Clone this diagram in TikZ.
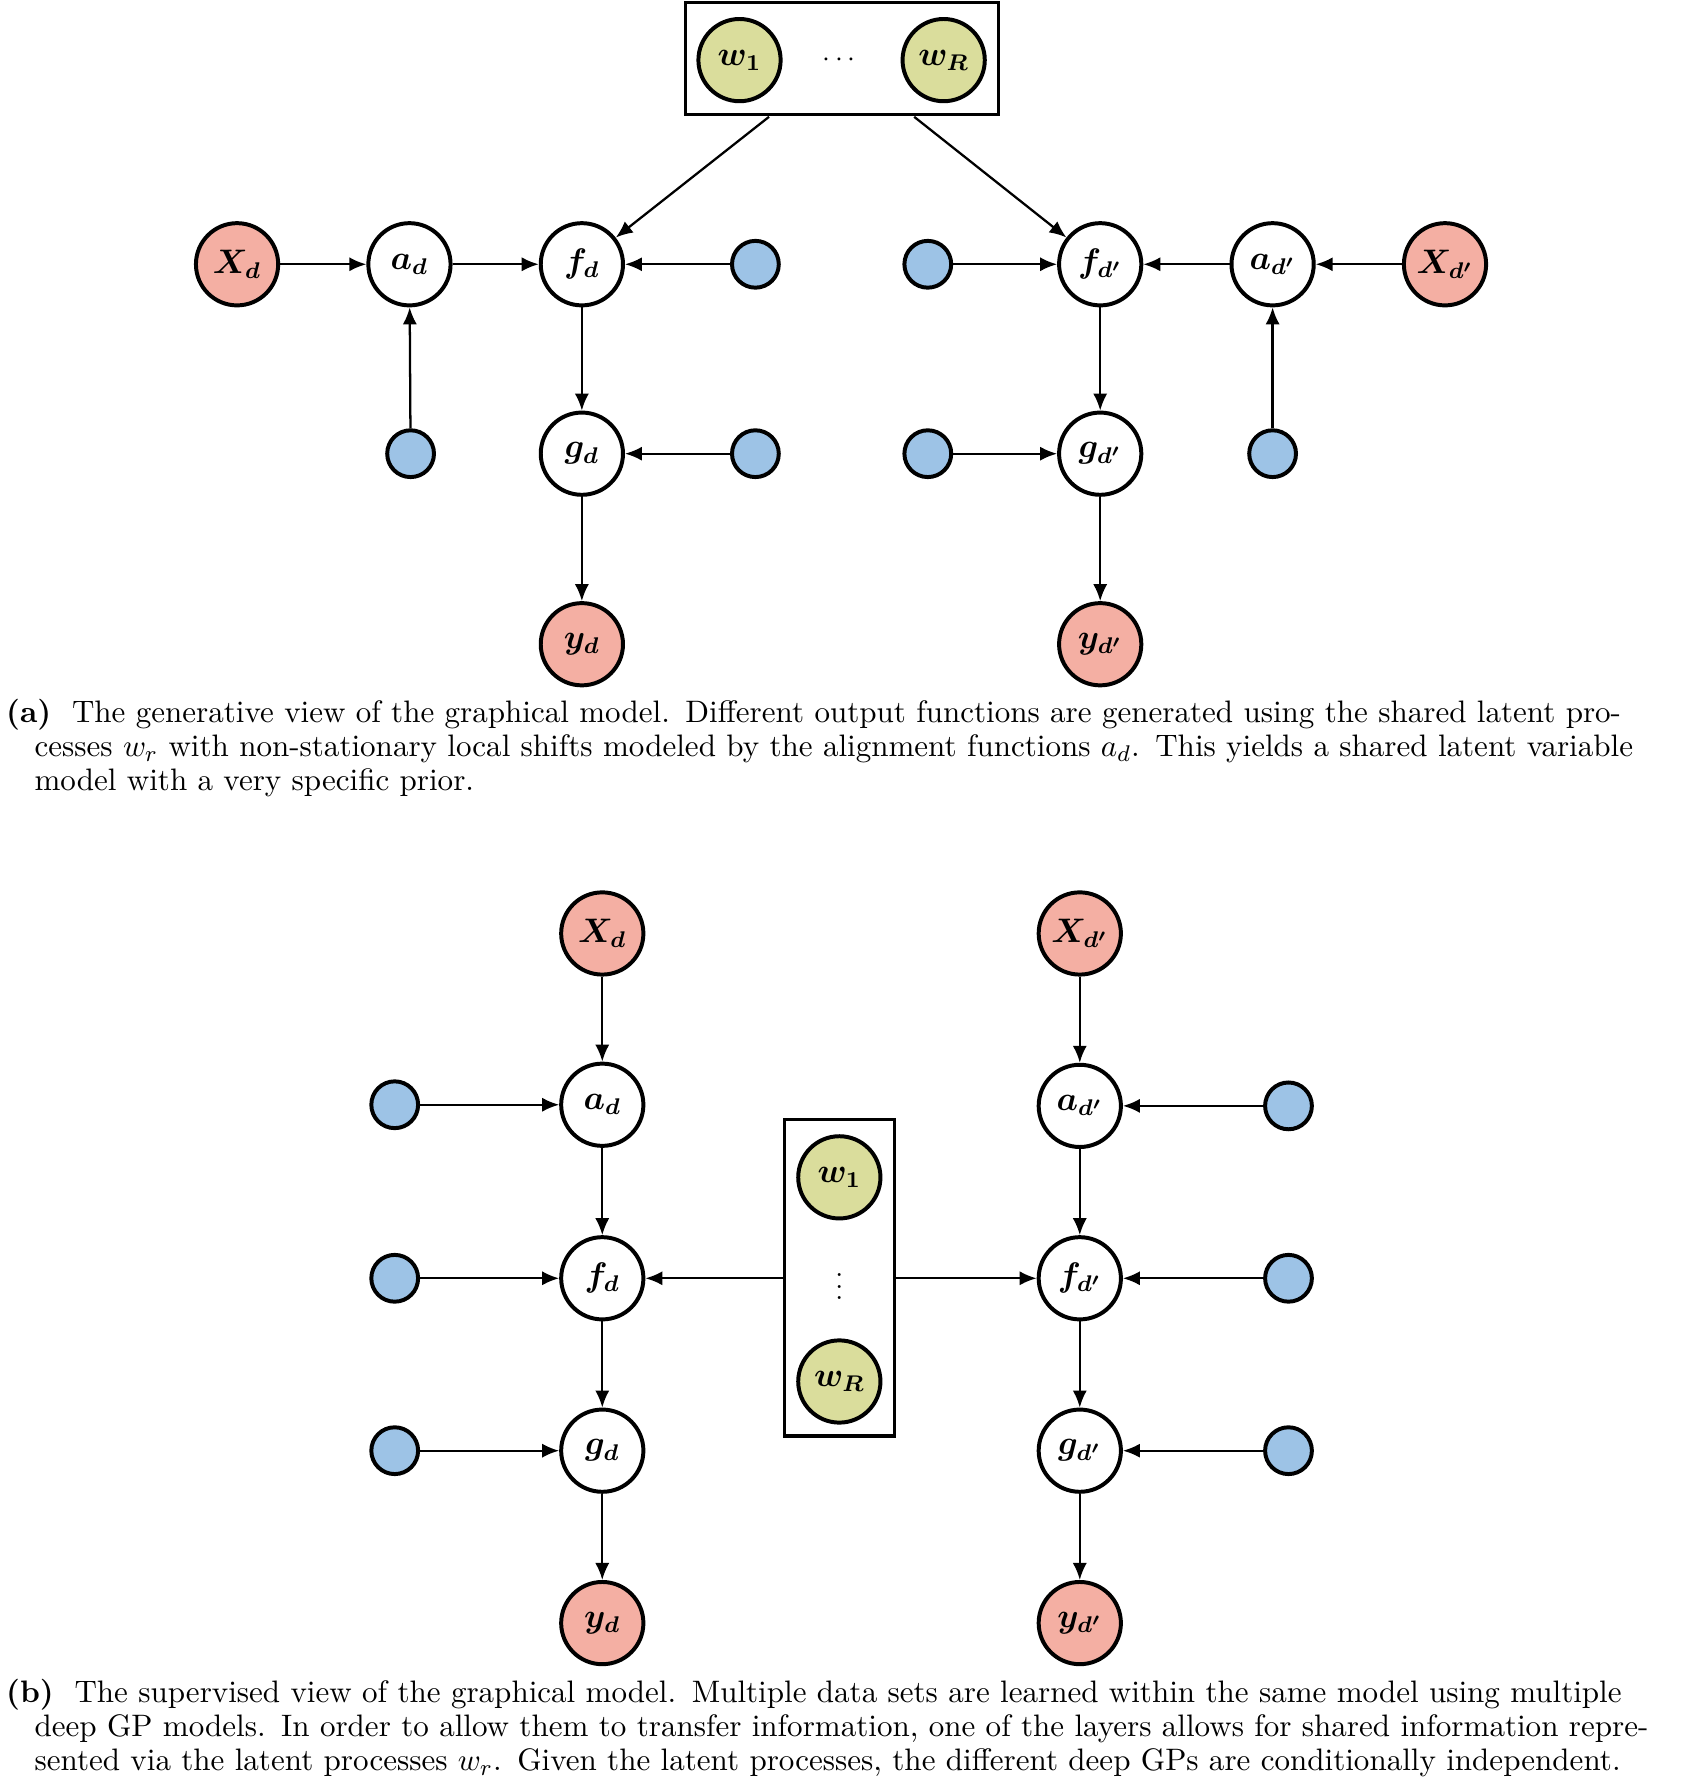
\documentclass[tikz,border=0pt]{standalone}
\usetikzlibrary{arrows.meta}
\definecolor{obs}{HTML}{F4AFA3}
\definecolor{hyp}{HTML}{9DC3E6}
\definecolor{wcol}{HTML}{DADD9C}
\begin{document}
\begin{tikzpicture}[x=0.4pt,y=-0.4pt,
 var/.style={circle,draw,line width=1.4pt,minimum size=29pt,inner sep=0pt,font=\boldmath\large},
 lat/.style={var,fill=white},
 ob/.style={var,fill=obs},
 ww/.style={var,fill=wcol},
 hp/.style={circle,draw,line width=1.4pt,fill=hyp,minimum size=16.5pt,inner sep=0pt},
 ar/.style={-{Latex[length=6pt,width=5pt]},line width=0.8pt},
 captext/.style={anchor=north west,text width=592pt,inner sep=0pt,font=\fontsize{10.95}{12}\selectfont}]
\useasboundingbox (0,0) rectangle (1490,1572);
% (a)
\node[ww] (w1) at (652,53) {$w_1$};
\node[ww] (wR) at (832,53) {$w_R$};
\node[inner sep=0pt] (dots) at (740,53) {$\cdots$};
\draw[line width=1.1pt] (604,2) rectangle (880,101);
\coordinate (bl) at (678,103); \coordinate (br) at (806,103);
\node[ob] (Xd) at (209,233) {$X_d$};
\node[lat] (ad) at (361,233) {$a_d$};
\node[lat] (fd) at (513,233) {$f_d$};
\node[hp] (h1) at (666,233) {};
\node[hp] (h2) at (818,233) {};
\node[lat] (fdp) at (970,233) {$f_{d'}$};
\node[lat] (adp) at (1122,233) {$a_{d'}$};
\node[ob] (Xdp) at (1274,233) {$X_{d'}$};
\node[hp] (h3) at (362,400) {};
\node[lat] (gd) at (513,400) {$g_d$};
\node[hp] (h4) at (666,400) {};
\node[hp] (h5) at (818,400) {};
\node[lat] (gdp) at (970,400) {$g_{d'}$};
\node[hp] (h6) at (1122,400) {};
\node[ob] (yd) at (513,568) {$y_d$};
\node[ob] (ydp) at (970,568) {$y_{d'}$};
\draw[ar] (bl) -- (fd); \draw[ar] (br) -- (fdp);
\draw[ar] (Xd) -- (ad); \draw[ar] (ad) -- (fd); \draw[ar] (h1) -- (fd);
\draw[ar] (h2) -- (fdp); \draw[ar] (adp) -- (fdp); \draw[ar] (Xdp) -- (adp);
\draw[ar] (h3) -- (ad); \draw[ar] (h6) -- (adp);
\draw[ar] (fd) -- (gd); \draw[ar] (fdp) -- (gdp);
\draw[ar] (h4) -- (gd); \draw[ar] (h5) -- (gdp);
\draw[ar] (gd) -- (yd); \draw[ar] (gdp) -- (ydp);
\node[captext] (capa) at (5,616) {\parshape 2 0pt 592pt 10pt 582pt\noindent\textbf{(a)}\ \ The generative view of the graphical model. Different output functions are generated using the shared latent processes $w_r$ with non-stationary local shifts modeled by the alignment functions $a_d$. This yields a shared latent variable model with a very specific prior.\par};
% (b)
\node[ob] (bXd) at (531,823) {$X_d$};
\node[lat] (bad) at (531,974) {$a_d$};
\node[lat] (bfd) at (531,1127) {$f_d$};
\node[lat] (bgd) at (531,1279) {$g_d$};
\node[ob] (byd) at (531,1431) {$y_d$};
\node[ob] (bXdp) at (952,823) {$X_{d'}$};
\node[lat] (badp) at (952,975) {$a_{d'}$};
\node[lat] (bfdp) at (952,1127) {$f_{d'}$};
\node[lat] (bgdp) at (952,1279) {$g_{d'}$};
\node[ob] (bydp) at (952,1431) {$y_{d'}$};
\node[hp] (k1) at (348,974) {};
\node[hp] (k2) at (348,1127) {};
\node[hp] (k3) at (348,1279) {};
\node[hp] (k4) at (1136,975) {};
\node[hp] (k5) at (1136,1127) {};
\node[hp] (k6) at (1136,1279) {};
\node[ww] (bw1) at (740,1038) {$w_1$};
\node[ww] (bwR) at (740,1218) {$w_R$};
\node[inner sep=0pt] (vd) at (740,1127) {$\vdots$};
\draw[line width=1.1pt] (692,987) rectangle (789,1266);
\coordinate (bbl) at (692,1127); \coordinate (bbr) at (789,1127);
\draw[ar] (bXd) -- (bad); \draw[ar] (bad) -- (bfd); \draw[ar] (bfd) -- (bgd); \draw[ar] (bgd) -- (byd);
\draw[ar] (bXdp) -- (badp); \draw[ar] (badp) -- (bfdp); \draw[ar] (bfdp) -- (bgdp); \draw[ar] (bgdp) -- (bydp);
\draw[ar] (k1) -- (bad); \draw[ar] (k2) -- (bfd); \draw[ar] (k3) -- (bgd);
\draw[ar] (k4) -- (badp); \draw[ar] (k5) -- (bfdp); \draw[ar] (k6) -- (bgdp);
\draw[ar] (bbl) -- (bfd); \draw[ar] (bbr) -- (bfdp);
\node[captext] (capb) at (5,1480) {\parshape 2 0pt 592pt 10pt 582pt\noindent\textbf{(b)}\ \ The supervised view of the graphical model. Multiple data sets are learned within the same model using multiple deep GP models. In order to allow them to transfer information, one of the layers allows for shared information represented via the latent processes $w_r$. Given the latent processes, the different deep GPs are conditionally independent.\par};
\end{tikzpicture}
\end{document}
